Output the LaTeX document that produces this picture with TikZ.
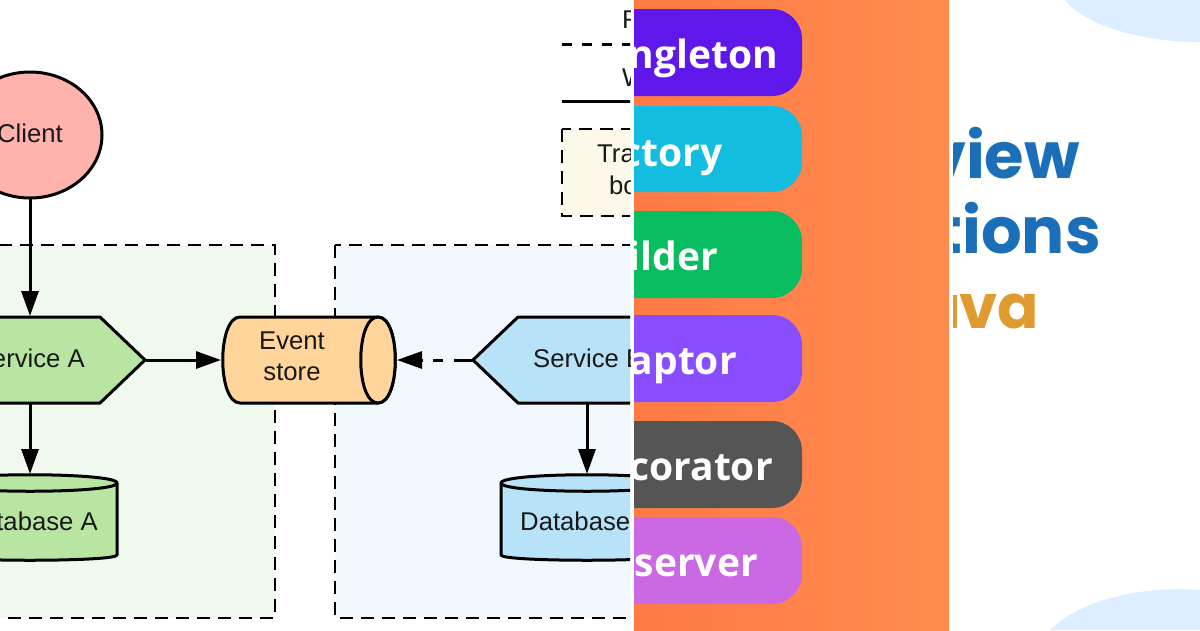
\documentclass[tikz,border=0pt]{standalone}
\usepackage{fontspec}
\setmainfont{Liberation Sans}
\newfontfamily\panelfont{Open Sans}
\newfontfamily\titlefont{Poppins}
\usetikzlibrary{arrows.meta}
\definecolor{greenfill}{HTML}{B8E6A2}
\definecolor{bluefill}{HTML}{B8E2F8}
\definecolor{orangefill}{HTML}{FFD59B}
\definecolor{clientfill}{HTML}{FFB3AC}
\definecolor{zoneA}{HTML}{F0F9EE}
\definecolor{zoneB}{HTML}{F0F8FE}
\definecolor{legendfill}{HTML}{FDF9EA}
\definecolor{blobfill}{HTML}{DCEEFF}
\definecolor{orangeL}{HTML}{FF7A45}
\definecolor{orangeR}{HTML}{FF8C4F}
\definecolor{titleblue}{HTML}{1A6FB8}
\definecolor{titleorange}{HTML}{E09B30}
\definecolor{pillA}{HTML}{5F17EA}
\definecolor{pillB}{HTML}{12BDE0}
\definecolor{pillC}{HTML}{08BD5F}
\definecolor{pillD}{HTML}{8A4CFF}
\definecolor{pillE}{HTML}{555555}
\definecolor{pillF}{HTML}{CB68E4}
\tikzset{
  x=1pt,y=-1pt,
  outline/.style={draw=black,line width=3pt,line join=round},
  zonebox/.style={draw=black,line width=1.5pt,dash pattern=on 13pt off 8pt},
  label/.style={inner sep=0pt,font=\fontsize{25.7}{30}\selectfont,text=black!90,align=center},
  flow/.style={line width=3pt,-{Triangle[length=25pt,width=17pt]}},
  pill/.style={rounded corners=30pt},
  pilltext/.style={inner sep=0pt,anchor=base east,text=white,font=\panelfont\bfseries\fontsize{39}{46}\selectfont},
  titletext/.style={inner sep=0pt,anchor=base east,font=\titlefont\bfseries\fontsize{64}{70}\selectfont},
}
\begin{document}
\begin{tikzpicture}
\useasboundingbox (0,0) rectangle (1200,630);
\fill[white] (0,0) rectangle (1200,630);
\begin{scope}
\clip (0,0) rectangle (630,630);
\filldraw[fill=zoneA,zonebox] (-60,245) rectangle (275,618);
\filldraw[fill=zoneB,zonebox] (335,245) rectangle (700,618);
% legend
\coordinate (dashL) at (562,44); \coordinate (dashR) at (632,44);
\coordinate (solL) at (562,101); \coordinate (solR) at (632,101);
\draw[line width=3pt,dash pattern=on 10pt off 10pt] (dashL) -- (dashR);
\draw[line width=3pt] (solL) -- (solR);
\node[label,anchor=base west] (legR) at (622,28) {R};
\node[label,anchor=base west] (legW) at (622,86) {W};
\filldraw[fill=legendfill,zonebox] (562,129) rectangle (700,216);
\node[label,anchor=base west] (legT) at (597,162) {Tra};
\node[label,anchor=base west] (legB) at (609,194) {bo};
% client
\filldraw[fill=clientfill,outline] (30,135) ellipse [x radius=72,y radius=63];
\node[label] (client) at (30,133) {Client};
\coordinate (clientS) at (30,198);
% service A
\path[fill=greenfill,outline] (-60,317) -- (100,317) -- (145,360) -- (100,403) -- (-60,403) -- cycle;
\node[label,anchor=base east] (svcA) at (85,367) {ervice A};
\coordinate (svcAN) at (30,316); \coordinate (svcAE) at (146,360); \coordinate (svcAS) at (30,403);
% event store
\path[fill=orangefill,outline] (240,317) -- (378,317) .. controls (401,317) and (401,403) .. (378,403) -- (240,403) .. controls (217,403) and (217,317) .. (240,317) -- cycle;
\path[fill=orangefill,outline] (378,317) .. controls (355,317) and (355,403) .. (378,403) .. controls (401,403) and (401,317) .. (378,317) -- cycle;
\node[label] (store) at (292,356) {Event\\[1pt]store};
\coordinate (storeW) at (221,360); \coordinate (storeE) at (397,360);
% service B
\path[fill=bluefill,outline] (700,317) -- (518,317) -- (473,360) -- (518,403) -- (700,403) -- cycle;
\node[label,anchor=base west] (svcB) at (533,367) {Service B};
\coordinate (svcBW) at (473,360); \coordinate (svcBS) at (587,403);
% databases
\path[fill=greenfill,outline] (-57,483) .. controls (-57,472) and (117,472) .. (117,483) -- (117,555) .. controls (117,562) and (-57,562) .. (-57,555) -- cycle;
\draw[outline] (-57,483) .. controls (-57,494) and (117,494) .. (117,483);
\node[label,anchor=base east] (dbA) at (98,530) {atabase A};
\coordinate (dbAN) at (30,474);
\path[fill=bluefill,outline] (501,483) .. controls (501,472) and (673,472) .. (673,483) -- (673,555) .. controls (673,562) and (501,562) .. (501,555) -- cycle;
\draw[outline] (501,483) .. controls (501,494) and (673,494) .. (673,483);
\node[label,anchor=base west] (dbB) at (520,530) {Database};
\coordinate (dbBN) at (587,474);
% connectors
\draw[flow] (clientS) -- (svcAN);
\draw[flow] (svcAS) -- (dbAN);
\draw[flow] (svcAE) -- (storeW);
\draw[flow,dash pattern=on 19pt off 11pt on 10pt off 10pt] (svcBW) -- (storeE);
\draw[flow] (svcBS) -- (dbBN);
\end{scope}
% orange panel
\shade[left color=orangeL,right color=orangeR] (634,0) rectangle (949,630);
\begin{scope}
\clip (634,0) rectangle (949,630);
\fill[pill,fill=pillA] (560,9) rectangle (802,96);
\fill[pill,fill=pillB] (560,106) rectangle (802,192);
\fill[pill,fill=pillC] (560,211) rectangle (802,298);
\fill[pill,fill=pillD] (560,315) rectangle (802,402);
\fill[pill,fill=pillE] (560,421) rectangle (802,508);
\fill[pill,fill=pillF] (560,517) rectangle (802,604);
\node[pilltext] (p1) at (778,68) {ngleton};
\node[pilltext] (p2) at (723,166) {ctory};
\node[pilltext] (p3) at (718,270) {ilder};
\node[pilltext] (p4) at (737,374) {aptor};
\node[pilltext] (p5) at (773,480) {corator};
\node[pilltext] (p6) at (758,576) {server};
\end{scope}
% right side
\fill[blobfill] (1200,42) .. controls (1140,42) and (1085,25) .. (1065,0) -- (1200,0) -- cycle;
\fill[blobfill] (1200,590) .. controls (1130,585) and (1075,605) .. (1050,630) -- (1200,630) -- cycle;
\begin{scope}
\clip (953,0) rectangle (1200,630);
\node[titletext,text=titleblue] (t1) at (1080,178) {view};
\node[titletext,text=titleblue] (t2) at (1101,253) {tions};
\node[titletext,text=titleorange,font=\titlefont\bfseries\fontsize{61}{70}\selectfont] (t3) at (1039,328) {va};
\fill[titleorange] (953,295) rectangle (957,328);
\end{scope}
\end{tikzpicture}
\end{document}
